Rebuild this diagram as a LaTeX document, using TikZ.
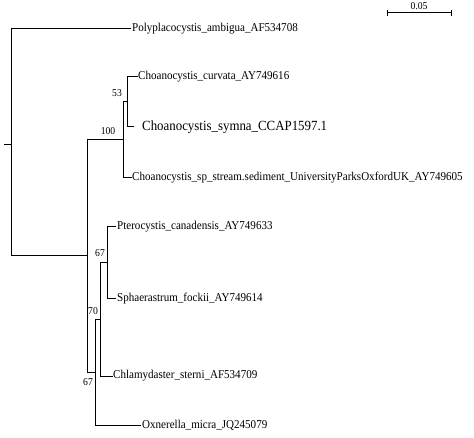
\documentclass[tikz,border=0pt]{standalone}
\usepackage{fontspec}
\setmainfont{Liberation Serif}
\newcommand{\lbl}[1]{\scalebox{0.92}[1]{#1}}
\begin{document}
\begin{tikzpicture}[x=1pt,y=-1pt,
  branch/.style={draw=black, line width=1pt, line cap=rect},
  leaf/.style={anchor=west, inner sep=0pt, font=\fontsize{12}{14}\selectfont},
  bigleaf/.style={anchor=west, inner sep=0pt, font=\fontsize{14}{16}\selectfont},
  boot/.style={inner sep=0pt, font=\fontsize{10.5}{12}\selectfont}]
\useasboundingbox (0,0) rectangle (474,438);
% internal nodes
\coordinate (root) at (11,145);
\coordinate (rtick) at (4,145);
\coordinate (nA) at (87,256);
\coordinate (n100) at (123,140);
\coordinate (n53) at (127,102);
\coordinate (nOx) at (95,372);
\coordinate (n70) at (100,320);
\coordinate (n67) at (107,263);
% leaves
\node[leaf] (poly) at (132,29) {\lbl{Polyplacocystis\_ambigua\_AF534708}};
\node[leaf] (curv) at (138,77) {\lbl{Choanocystis\_curvata\_AY749616}};
\node[bigleaf] (symna) at (142,127) {\lbl{Choanocystis\_symna\_CCAP1597.1}};
\node[leaf] (strm) at (132,178) {\lbl{Choanocystis\_sp\_stream.sediment\_UniversityParksOxfordUK\_AY749605}};
\node[leaf] (ptero) at (117,227) {\lbl{Pterocystis\_canadensis\_AY749633}};
\node[leaf] (sphae) at (117,299) {\lbl{Sphaerastrum\_fockii\_AY749614}};
\node[leaf] (chlam) at (113,376) {\lbl{Chlamydaster\_sterni\_AF534709}};
\node[leaf] (oxn) at (142,425) {\lbl{Oxnerella\_micra\_JQ245079}};
% branches
\draw[branch] (rtick) -- (root);
\draw[branch] (root) |- ([xshift=-2pt]poly.west);
\draw[branch] (root) |- (nA);
\draw[branch] (nA) |- (n100);
\draw[branch] (nA) |- (nOx);
\draw[branch] (n100) |- (n53);
\draw[branch] (n100) |- ([xshift=-1pt]strm.west);
\draw[branch] (n53) |- ([xshift=-1pt]curv.west);
\draw[branch] (n53) |- ([xshift=-9pt]symna.west);
\draw[branch] (nOx) |- (n70);
\draw[branch] (nOx) |- ([xshift=-2pt]oxn.west);
\draw[branch] (n70) |- (n67);
\draw[branch] (n70) |- ([xshift=-1pt]chlam.west);
\draw[branch] (n67) |- ([xshift=-2pt]ptero.west);
\draw[branch] (n67) |- ([xshift=-2pt]sphae.west);
% bootstrap values
\node[boot] (b53) at (117,93) {\lbl{53}};
\node[boot] (b100) at (108,131) {\lbl{100}};
\node[boot] (b67a) at (100,253) {\lbl{67}};
\node[boot] (b70) at (93,311) {\lbl{70}};
\node[boot] (b67b) at (88,382) {\lbl{67}};
% scale bar
\coordinate (sbL) at (387,13);
\coordinate (sbR) at (451,13);
\draw[line width=1pt] (sbL) -- (sbR);
\draw[line width=1pt] ([yshift=-3pt]sbL) -- ([yshift=3pt]sbL);
\draw[line width=1pt] ([yshift=-3pt]sbR) -- ([yshift=3pt]sbR);
\node[boot] (sblab) at (419,6) {\lbl{0.05}};
\end{tikzpicture}
\end{document}
